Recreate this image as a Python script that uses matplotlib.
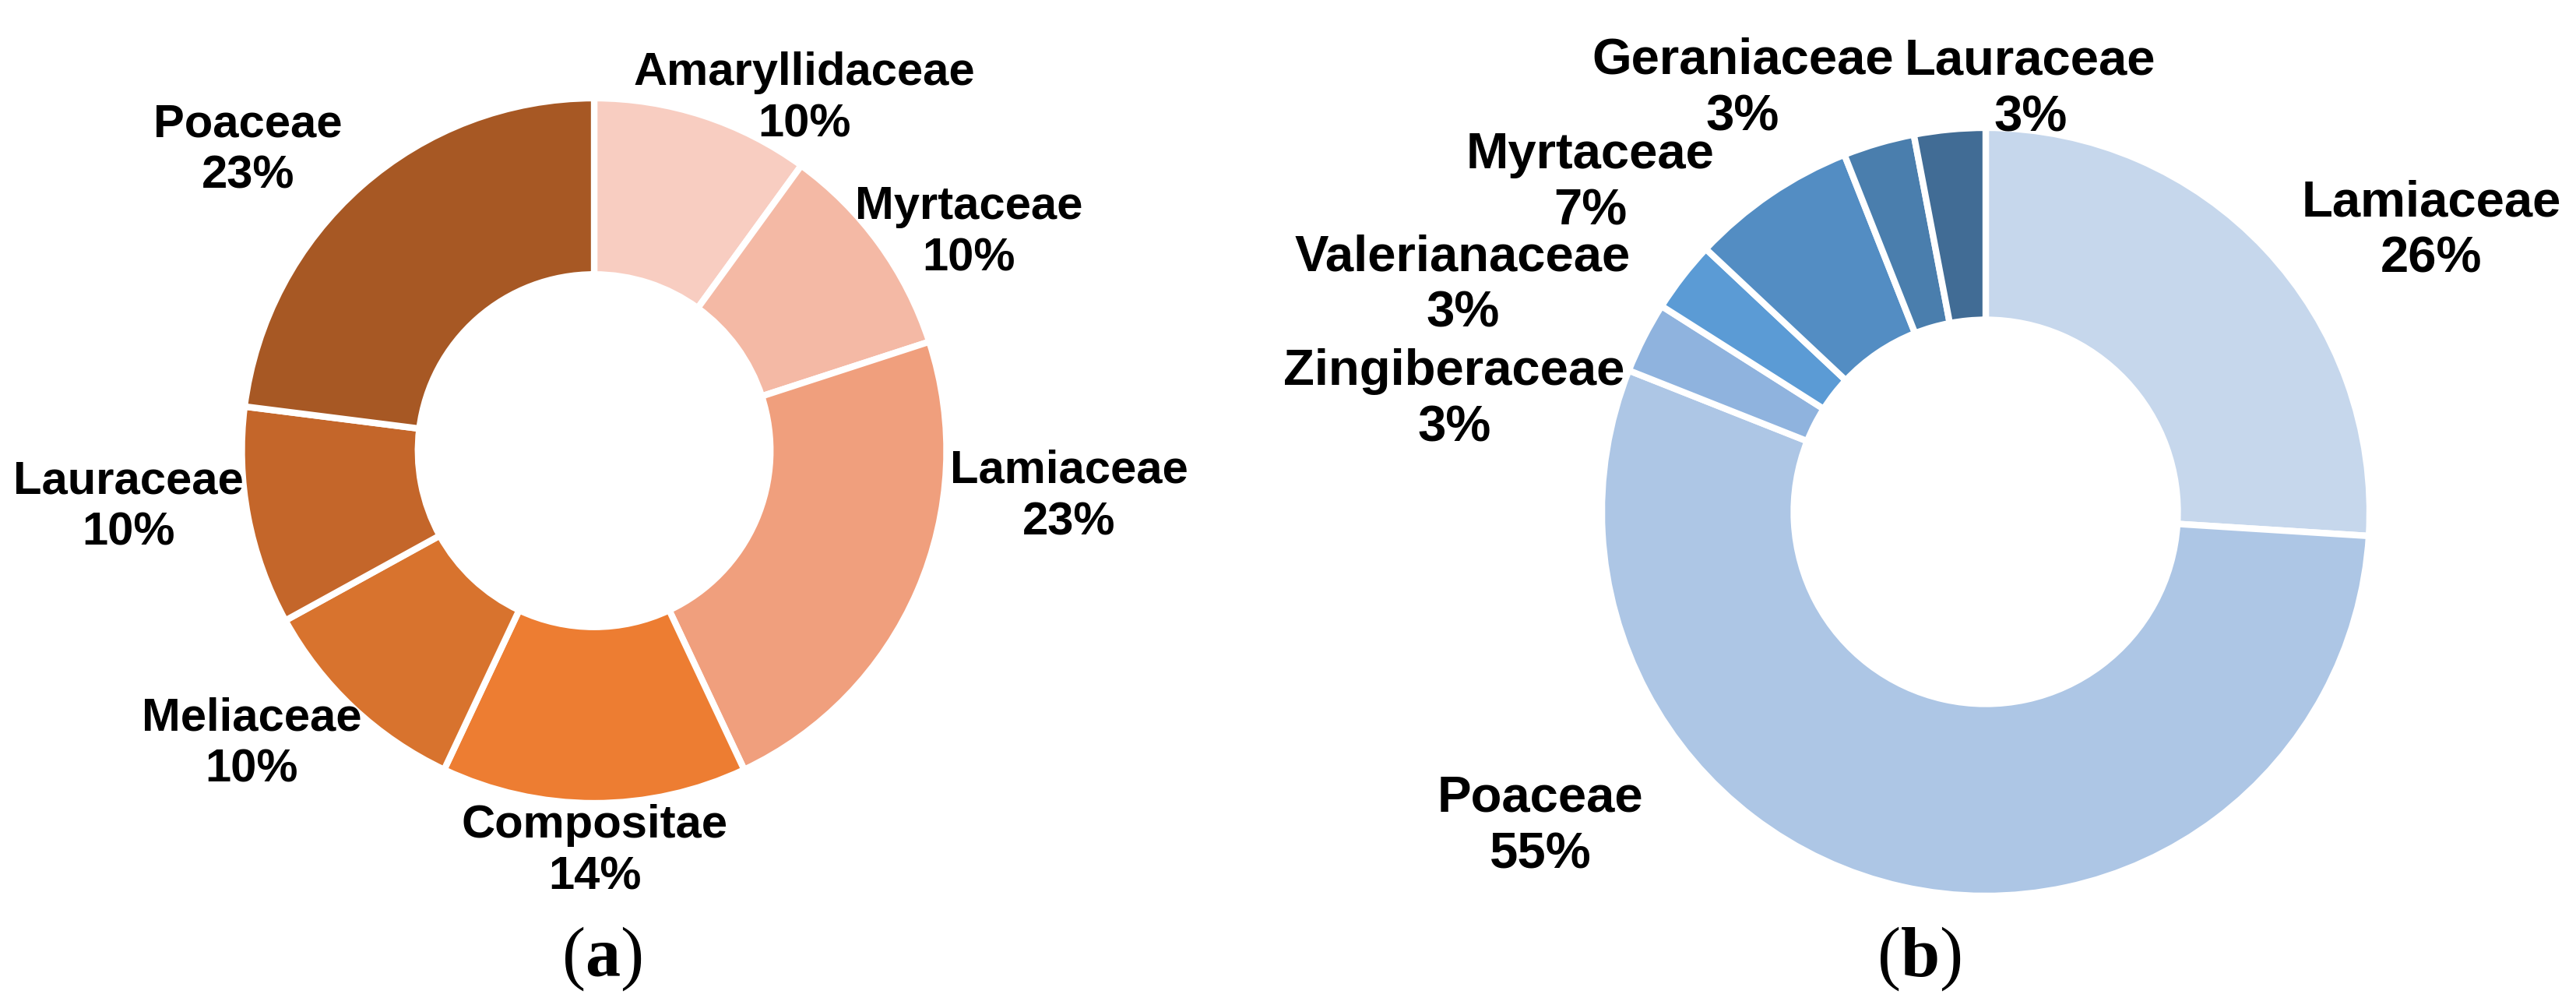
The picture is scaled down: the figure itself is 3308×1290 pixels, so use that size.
import matplotlib
matplotlib.use("Agg")
import matplotlib.pyplot as plt

# ---------------- data ----------------
left_labels = ["Amaryllidaceae", "Myrtaceae", "Lamiaceae", "Compositae",
               "Meliaceae", "Lauraceae", "Poaceae"]
left_values = [10, 10, 23, 14, 10, 10, 23]
left_colors = ["#F8CDC1", "#F4B9A5", "#F09F7D", "#ED7D32",
               "#D8732E", "#C4662A", "#A75824"]

right_labels = ["Lamiaceae", "Poaceae", "Zingiberaceae", "Valerianaceae",
                "Myrtaceae", "Geraniaceae", "Lauraceae"]
right_values = [26, 55, 3, 3, 7, 3, 3]
right_colors = ["#C6D7EC", "#ADC6E5", "#8FB3DE", "#5B9BD5",
                "#538DC3", "#4A7EAD", "#416C95"]

panel_tags = ["a", "b"]

# ---------------- layout (label positions in units of outer radius) ----------------
left_label_pos = [(0.597, 0.998), (1.063, 0.618), (1.348, -0.131), (0.002, -1.137),
                  (-0.972, -0.832), (-1.322, -0.160), (-0.983, 0.852)]
right_label_pos = [(1.160, 0.731), (-1.160, -0.820), (-1.385, 0.291), (-1.362, 0.589),
                   (-1.030, 0.855), (-0.633, 1.102), (0.116, 1.100)]

W, H = 3308, 1290
DPI = 100
plt.rcParams['mathtext.fontset'] = 'custom'
plt.rcParams['mathtext.rm'] = 'Liberation Serif'
plt.rcParams['mathtext.bf'] = 'Liberation Serif:bold'

fig = plt.figure(figsize=(W / DPI, H / DPI), dpi=DPI)
fig.patch.set_facecolor("white")


def make_axes(cx, cy, r_px, lim=1.05):
    s = r_px * lim
    rect = [(cx - s) / W, (H - cy - s) / H, 2 * s / W, 2 * s / H]
    ax = fig.add_axes(rect)
    ax.set_xlim(-lim, lim)
    ax.set_ylim(-lim, lim)
    ax.axis("off")
    return ax


def donut(ax, values, colors, labels, positions, fsize):
    ax.pie(values, colors=colors, startangle=90, counterclock=False,
           radius=1.0,
           wedgeprops=dict(width=0.5, edgecolor="white", linewidth=6))
    ax.set_xlim(-1.05, 1.05)
    ax.set_ylim(-1.05, 1.05)
    for name, v, (x, y) in zip(labels, values, positions):
        ax.text(x, y, f"{name}\n{v}%", ha="center", va="center",
                fontsize=fsize, fontweight="bold", family="Liberation Sans",
                linespacing=1.27, color="black", clip_on=False)


ax1 = make_axes(763, 578.5, 452.5)
donut(ax1, left_values, left_colors, left_labels, left_label_pos, 43)

ax2 = make_axes(2550, 657, 493)
donut(ax2, right_values, right_colors, right_labels, right_label_pos, 47)

for tag, cx in zip(panel_tags, [773, 2464]):
    fig.text(cx / W, (H - 1253) / H, "(" + r"$\mathbf{" + tag + "}$" + ")",
             ha="center", va="baseline", fontsize=65, family="Liberation Serif")

fig.savefig("out.png", dpi=DPI, facecolor="white")
